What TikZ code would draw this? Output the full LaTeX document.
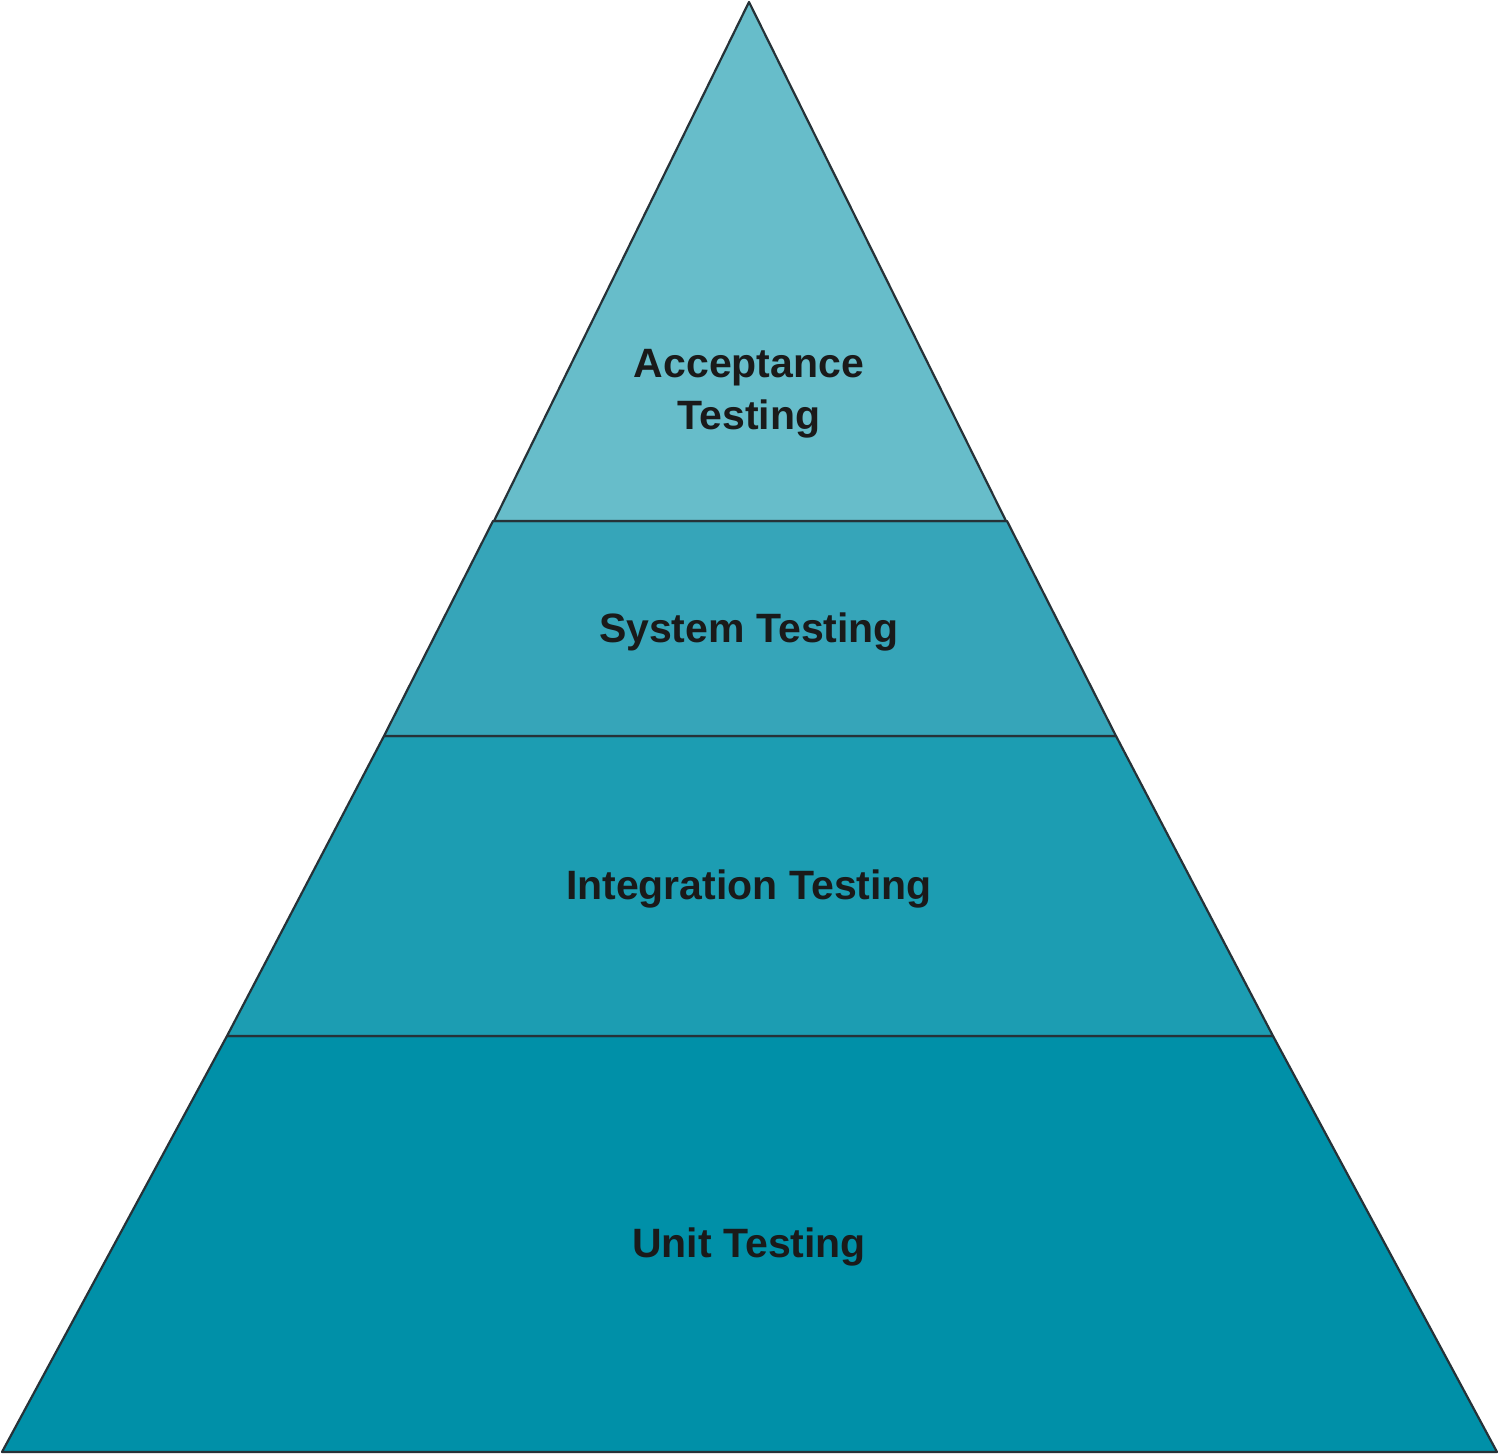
\documentclass[tikz,border=0pt]{standalone}
\usepackage{fontspec}
\setmainfont{Liberation Sans}
\definecolor{c1}{HTML}{67BDCA}
\definecolor{c2}{HTML}{36A5B9}
\definecolor{c3}{HTML}{1C9DB2}
\definecolor{c4}{HTML}{0090A8}
\definecolor{tx}{HTML}{1A1A1A}
\definecolor{ln}{HTML}{263238}
\begin{document}
\begin{tikzpicture}[x=0.5pt,y=-0.5pt,
  tier/.style={draw=ln,line width=1.1pt,line join=round},
  lbl/.style={font=\fontsize{20.5}{26}\selectfont\bfseries,text=tx,align=center}]
\useasboundingbox (0,0) rectangle (1500,1454);
\draw[tier,fill=c4] (227,1036)--(1273,1036)--(1497,1452)--(2,1452)--cycle;
\draw[tier,fill=c3] (384,736)--(1116,736)--(1273,1036)--(227,1036)--cycle;
\draw[tier,fill=c2] (493,521)--(1007,521)--(1116,736)--(384,736)--cycle;
\draw[tier,fill=c1] (749,2)--(1006,521)--(494,521)--cycle;
\node[lbl] (acc) at (749,394) {Acceptance\\Testing};
\node[lbl] (sys) at (749,632) {System Testing};
\node[lbl] (int) at (749,889) {Integration Testing};
\node[lbl] (unit) at (749,1247) {Unit Testing};
\end{tikzpicture}
\end{document}
